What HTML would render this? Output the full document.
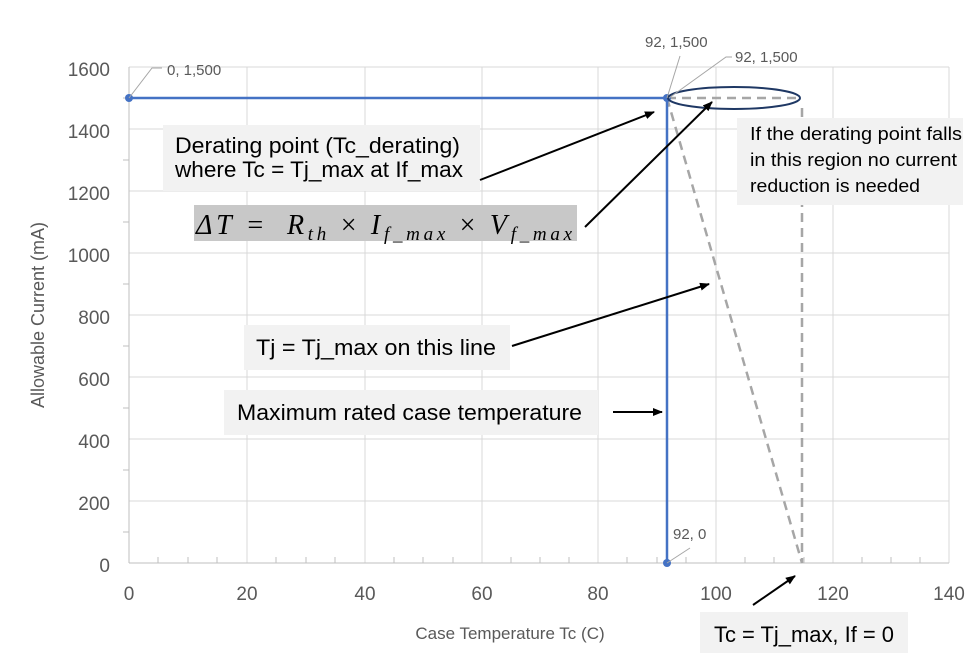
<!DOCTYPE html>
<html><head><meta charset="utf-8"><style>
body{margin:0;background:#fff;}
svg{display:block;font-family:"Liberation Sans",sans-serif;}
.box{fill:#f2f2f2}
</style></head><body>
<svg width="975" height="653" viewBox="0 0 975 653">
<defs><marker id="ah" markerWidth="10" markerHeight="8" refX="9" refY="4" orient="auto" markerUnits="userSpaceOnUse"><path d="M0,0 L10,4 L0,8 z" fill="#000"/></marker></defs>
<g stroke="#d9d9d9" stroke-width="1">
<line x1="129" y1="67" x2="949" y2="67"/><line x1="129" y1="129" x2="949" y2="129"/><line x1="129" y1="191" x2="949" y2="191"/><line x1="129" y1="253" x2="949" y2="253"/><line x1="129" y1="315" x2="949" y2="315"/><line x1="129" y1="377" x2="949" y2="377"/><line x1="129" y1="439" x2="949" y2="439"/><line x1="129" y1="501" x2="949" y2="501"/>
<line x1="247" y1="67" x2="247" y2="563"/><line x1="365" y1="67" x2="365" y2="563"/><line x1="482" y1="67" x2="482" y2="563"/><line x1="598" y1="67" x2="598" y2="563"/><line x1="716" y1="67" x2="716" y2="563"/><line x1="833" y1="67" x2="833" y2="563"/><line x1="949" y1="67" x2="949" y2="563"/>
</g>
<g stroke="#bfbfbf" stroke-width="1">
<line x1="129" y1="67" x2="129" y2="563"/><line x1="129" y1="563" x2="949" y2="563"/>
<path d="M123 98h6M123 160h6M123 222h6M123 284h6M123 346h6M123 408h6M123 470h6M123 532h6"/>
<path d="M158 557v6M188 557v6M217 557v6M276 557v6M306 557v6M335 557v6M394 557v6M423 557v6M453 557v6M511 557v6M540 557v6M569 557v6M627 557v6M657 557v6M686 557v6M745 557v6M774 557v6M804 557v6M862 557v6M891 557v6M920 557v6"/>
</g>
<g fill="#595959" font-size="19" text-anchor="end">
<text x="110" y="76">1600</text><text x="110" y="138">1400</text><text x="110" y="200">1200</text><text x="110" y="262">1000</text><text x="110" y="324">800</text><text x="110" y="386">600</text><text x="110" y="448">400</text><text x="110" y="510">200</text><text x="110" y="572">0</text>
</g>
<g fill="#595959" font-size="19" text-anchor="middle">
<text x="129" y="600">0</text><text x="247" y="600">20</text><text x="365" y="600">40</text><text x="482" y="600">60</text><text x="598" y="600">80</text><text x="716" y="600">100</text><text x="833" y="600">120</text><text x="949" y="600">140</text>
</g>
<text x="510" y="639" fill="#595959" font-size="17" text-anchor="middle">Case Temperature Tc (C)</text>
<text transform="translate(44,315) rotate(-90)" fill="#595959" font-size="18" text-anchor="middle">Allowable Current (mA)</text>
<g stroke="#a6a6a6" stroke-width="2.5" stroke-dasharray="9,6" fill="none">
<line x1="667" y1="98" x2="802" y2="98"/><line x1="667" y1="98" x2="802" y2="563"/><line x1="802" y1="108" x2="802" y2="563"/>
</g>
<polyline points="129,98 667,98 667,563" fill="none" stroke="#4472c4" stroke-width="2.5"/>
<g fill="#4472c4"><circle cx="129" cy="98" r="4"/><circle cx="667" cy="98" r="4"/><circle cx="667" cy="563" r="4"/></g>
<ellipse cx="734" cy="98" rx="66" ry="11" fill="none" stroke="#1f3864" stroke-width="2"/>
<g stroke="#a6a6a6" stroke-width="1" fill="none">
<polyline points="129,98 152,68 162,68"/><line x1="667" y1="98" x2="680" y2="56"/><polyline points="669,98 726,57 732,57"/><line x1="667" y1="563" x2="690" y2="548"/>
</g>
<g fill="#595959" font-size="15">
<text x="167" y="75">0, 1,500</text><text x="645" y="47">92, 1,500</text><text x="735" y="62">92, 1,500</text><text x="673" y="539">92, 0</text>
</g>
<rect class="box" x="163" y="125" width="317" height="66"/>
<rect x="194" y="205" width="383" height="36" fill="#c8c8c8"/>
<rect class="box" x="244" y="325" width="266" height="45"/>
<rect class="box" x="224" y="390" width="374" height="45"/>
<rect class="box" x="737" y="118" width="226" height="87"/>
<rect class="box" x="700" y="612" width="208" height="41"/>
<g fill="#000" font-size="22">
<text x="175" y="153" textLength="285" lengthAdjust="spacingAndGlyphs">Derating point (Tc_derating)</text>
<text x="175" y="177" textLength="288" lengthAdjust="spacingAndGlyphs">where Tc = Tj_max at If_max</text>
<text x="256" y="355" textLength="240" lengthAdjust="spacingAndGlyphs">Tj = Tj_max on this line</text>
<text x="237" y="420" textLength="345" lengthAdjust="spacingAndGlyphs">Maximum rated case temperature</text>
<text x="714" y="642" textLength="180" lengthAdjust="spacingAndGlyphs">Tc = Tj_max, If = 0</text>
</g>
<g fill="#000" font-size="18">
<text x="750" y="140" textLength="212" lengthAdjust="spacingAndGlyphs">If the derating point falls</text>
<text x="750" y="166" textLength="207" lengthAdjust="spacingAndGlyphs">in this region no current</text>
<text x="750" y="192" textLength="170" lengthAdjust="spacingAndGlyphs">reduction is needed</text>
</g>
<text x="196" y="234" font-family="Liberation Serif,serif" font-size="28" font-style="italic" fill="#000" textLength="376" lengthAdjust="spacing">ΔT = <tspan dx="8">R</tspan><tspan font-size="19" dy="6">th</tspan><tspan dy="-6" font-style="normal"> × </tspan>I<tspan font-size="19" dy="6">f_max</tspan><tspan dy="-6" font-style="normal"> × </tspan>V<tspan font-size="19" dy="6">f_max</tspan></text>
<g stroke="#000" stroke-width="2" marker-end="url(#ah)">
<line x1="480" y1="180" x2="654" y2="112"/>
<line x1="585" y1="227" x2="712" y2="102"/>
<line x1="512" y1="346" x2="709" y2="284"/>
<line x1="613" y1="412" x2="662" y2="412"/>
<line x1="753" y1="605" x2="795" y2="576"/>
</g>
</svg>
</body></html>
